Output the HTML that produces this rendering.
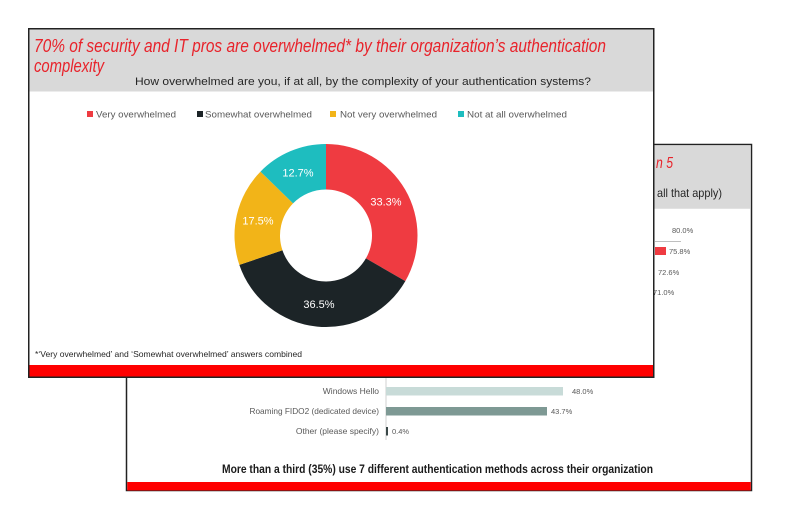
<!DOCTYPE html>
<html><head><meta charset="utf-8"><style>
html,body{margin:0;padding:0;background:#fff;}
svg{display:block;}
text{font-family:"Liberation Sans",sans-serif;}
</style></head><body>
<svg width="789" height="524" viewBox="0 0 789 524" xmlns="http://www.w3.org/2000/svg">
<rect width="789" height="524" fill="#fff"/>
<!-- Back card -->
<rect x="126.5" y="144.5" width="625" height="346" fill="#fff" stroke="#222" stroke-width="1.5"/>
<rect x="127.25" y="145.25" width="623.5" height="63.5" fill="#d9d9d9"/>
<rect x="127.25" y="482" width="623.5" height="8.5" fill="#ff0000"/>
<text x="656" y="168" font-size="16" font-style="italic" fill="#e8232b" textLength="17" lengthAdjust="spacingAndGlyphs">n 5</text>
<text x="657" y="197" font-size="12" fill="#262626" textLength="65" lengthAdjust="spacingAndGlyphs">all that apply)</text>
<!-- back card bars top (partially visible) -->
<text x="672" y="233" font-size="7.5" fill="#595959">80.0%</text>
<line x1="655" y1="241.5" x2="681" y2="241.5" stroke="#bfbfbf" stroke-width="1"/>
<rect x="655" y="247" width="11" height="8" fill="#ef3b41"/>
<text x="669" y="254" font-size="7.5" fill="#595959">75.8%</text>
<text x="658" y="275" font-size="7.5" fill="#595959">72.6%</text>
<text x="653" y="295" font-size="7.5" fill="#595959">71.0%</text>
<!-- back card lower bars -->
<line x1="386" y1="378" x2="386" y2="440" stroke="#d0d0d0" stroke-width="1"/>
<text x="379" y="394" font-size="8.5" fill="#595959" text-anchor="end">Windows Hello</text>
<rect x="386" y="387" width="177" height="8.5" fill="#c8dbd8"/>
<text x="572" y="394" font-size="7.5" fill="#595959">48.0%</text>
<text x="379" y="414" font-size="8.5" fill="#595959" text-anchor="end" textLength="129.5" lengthAdjust="spacingAndGlyphs">Roaming FIDO2 (dedicated device)</text>
<rect x="386" y="407" width="161" height="8.5" fill="#7e9994"/>
<text x="551" y="414" font-size="7.5" fill="#595959">43.7%</text>
<text x="379" y="434" font-size="8.5" fill="#595959" text-anchor="end">Other (please specify)</text>
<rect x="386" y="427" width="2" height="8.5" fill="#3a4848"/>
<text x="392" y="434" font-size="7.5" fill="#595959">0.4%</text>
<text x="437.5" y="473" font-size="12" font-weight="bold" fill="#1a1a1a" text-anchor="middle" textLength="431" lengthAdjust="spacingAndGlyphs">More than a third (35%) use 7 different authentication methods across their organization</text>

<!-- Front card -->
<rect x="28.75" y="28.75" width="625" height="348.5" fill="#fff" stroke="#222" stroke-width="1.5"/>
<rect x="29.5" y="29.5" width="623.5" height="62" fill="#d9d9d9"/>
<rect x="29.5" y="365" width="623.5" height="11.5" fill="#ff0000"/>
<text x="34" y="52" font-size="18" font-style="italic" fill="#e8232b" textLength="572" lengthAdjust="spacingAndGlyphs">70% of security and IT pros are overwhelmed* by their organization’s authentication</text>
<text x="34" y="72" font-size="18" font-style="italic" fill="#e8232b" textLength="70" lengthAdjust="spacingAndGlyphs">complexity</text>
<text x="135" y="85" font-size="11" fill="#262626" textLength="456" lengthAdjust="spacingAndGlyphs">How overwhelmed are you, if at all, by the complexity of your authentication systems?</text>

<!-- Legend -->
<rect x="87" y="111" width="6" height="6" fill="#ef3b41"/>
<text x="96" y="117.5" font-size="9.5" fill="#595959" textLength="80" lengthAdjust="spacingAndGlyphs">Very overwhelmed</text>
<rect x="197" y="111" width="6" height="6" fill="#1c2427"/>
<text x="205" y="117.5" font-size="9.5" fill="#595959" textLength="107" lengthAdjust="spacingAndGlyphs">Somewhat overwhelmed</text>
<rect x="330" y="111" width="6" height="6" fill="#f2b418"/>
<text x="340" y="117.5" font-size="9.5" fill="#595959" textLength="97" lengthAdjust="spacingAndGlyphs">Not very overwhelmed</text>
<rect x="458" y="111" width="6" height="6" fill="#1ebdbf"/>
<text x="467" y="117.5" font-size="9.5" fill="#595959" textLength="100" lengthAdjust="spacingAndGlyphs">Not at all overwhelmed</text>

<!-- Donut -->
<path d="M326,144 A91.5,91.5 0 0 1 405.34,281.08 L365.89,258.42 A46,46 0 0 0 326,189.5 Z" fill="#ef3b41"/>
<path d="M405.34,281.08 A91.5,91.5 0 0 1 239.34,264.87 L282.44,250.27 A46,46 0 0 0 365.89,258.42 Z" fill="#1c2427"/>
<path d="M239.34,264.87 A91.5,91.5 0 0 1 260.49,171.62 L293.07,203.38 A46,46 0 0 0 282.44,250.27 Z" fill="#f2b418"/>
<path d="M260.49,171.62 A91.5,91.5 0 0 1 326,144 L326,189.5 A46,46 0 0 0 293.07,203.38 Z" fill="#1ebdbf"/>
<text x="386" y="205.5" font-size="11" fill="#fff" text-anchor="middle">33.3%</text>
<text x="319" y="308" font-size="11" fill="#fff" text-anchor="middle">36.5%</text>
<text x="258" y="224.5" font-size="11" fill="#fff" text-anchor="middle">17.5%</text>
<text x="298" y="176.5" font-size="11" fill="#fff" text-anchor="middle">12.7%</text>

<text x="35" y="357" font-size="8.5" fill="#262626" textLength="267" lengthAdjust="spacingAndGlyphs">*‘Very overwhelmed’ and ‘Somewhat overwhelmed’ answers combined</text>
</svg>
</body></html>
